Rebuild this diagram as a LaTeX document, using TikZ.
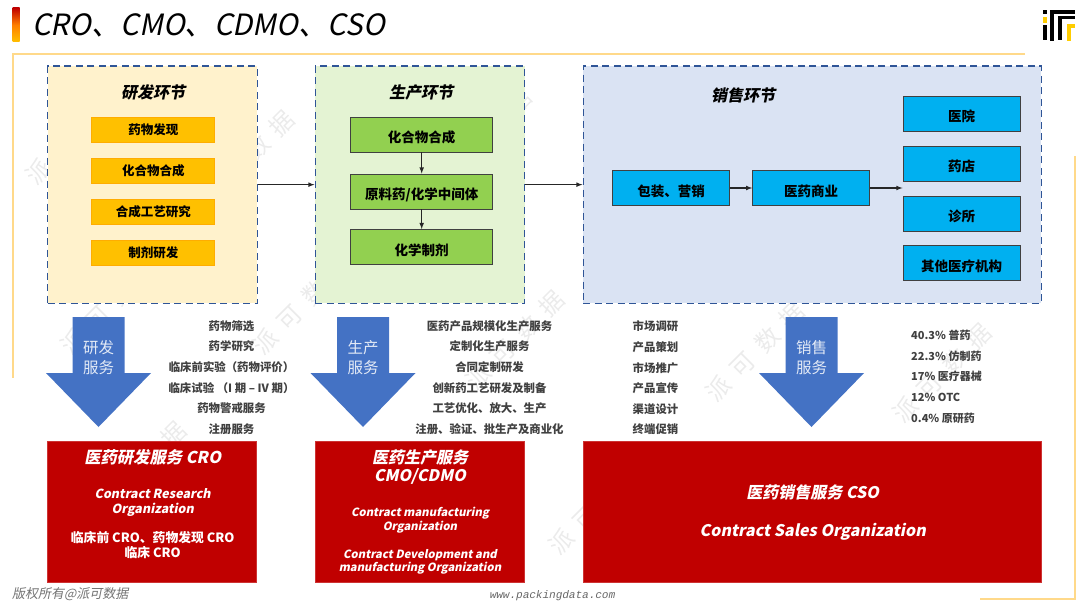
\documentclass[tikz,border=0pt]{standalone}
\usepackage{fontspec}
\setmainfont{Noto Sans CJK SC}
\newfontfamily\slantfont[FakeSlant=0.2]{Noto Sans CJK SC}
\newfontfamily\wmfont[LetterSpace=45]{Noto Sans CJK SC}
\newfontfamily\webfont[FakeSlant=0.2]{Liberation Mono}
\usepackage{xcolor}
\definecolor{framecol}{HTML}{FFD98A}
\definecolor{dashcol}{HTML}{2F5597}
\definecolor{goldcol}{HTML}{FFC000}
\definecolor{leafcol}{HTML}{92D050}
\definecolor{skycol}{HTML}{00B0F0}
\definecolor{darkred}{HTML}{C00000}
\definecolor{svccol}{HTML}{4472C4}
\tikzset{
  panel/.style={draw=dashcol,dash pattern=on 7pt off 4.5pt,line width=1.3pt,inner sep=0pt,anchor=north west},
  ybox/.style={draw=goldcol!70!orange,fill=goldcol,line width=0.8pt,minimum width=123pt,minimum height=25pt,inner sep=0pt,font=\fontsize{12.5}{14}\selectfont\bfseries},
  gbox/.style={draw=black!75,fill=leafcol,line width=0.9pt,minimum width=142pt,minimum height=35pt,inner sep=0pt,text height=16pt,text depth=0pt,font=\fontsize{13.5}{15}\selectfont\bfseries},
  bbox/.style={draw=black!75,fill=skycol,line width=0.9pt,minimum width=117pt,minimum height=35pt,inner sep=0pt,text height=16pt,text depth=0pt,font=\fontsize{13.5}{15}\selectfont\bfseries},
  redbox/.style={fill=darkred,draw=darkred!80!white,line width=0.4pt,inner sep=0pt,anchor=north west},
  ptitle/.style={font=\fontsize{16}{18}\selectfont\slantfont\bfseries},
  flow/.style={->,>=latex,black!85,line width=1.1pt},
  svctext/.style={white!85!svccol,align=center,font=\fontsize{15.5}{20}\selectfont},
  svcitem/.style={black!75,font=\fontsize{11.4}{13}\selectfont\bfseries},
  redtext/.style={white,align=center},
  wmark/.style={black!8,rotate=45,font=\fontsize{24}{28}\selectfont\wmfont}
}
\begin{document}
\begin{tikzpicture}[x=1pt,y=-1pt]
  \useasboundingbox (0,0) rectangle (1089,607);

  % watermark
  \foreach \wx/\wy in {75/135,245/160,482/138,110/305,302/305,515/340,755/352,942/373,137/471,598/505}
    \node[wmark] (wm\wx) at (\wx,\wy) {派可数据};

  % title
  \shade [top color=darkred,bottom color=goldcol,middle color=orange] (12.5,8) rectangle (19.5,42);
  \node (title) at (32,25) [anchor=west,inner sep=0pt,font=\fontsize{29.3}{32}\selectfont\slantfont] {CRO、CMO、CDMO、CSO};
  \draw [framecol,line width=1.2pt] (1025,54) -- (13,54) -- (13,378);
  \draw [framecol,line width=1.2pt] (1075,156) -- (1075,599) -- (980,599);

  % logo
  \fill (1043,10) rectangle (1047,14);
  \fill [goldcol!80!yellow] (1043,17) rectangle (1047,23);
  \fill (1043,25) rectangle (1047,40);
  \fill (1050,10) rectangle (1075,14);
  \fill (1050,10) rectangle (1054,41);
  \fill (1058,16) rectangle (1075,19.5);
  \fill (1058,16) rectangle (1062,40);
  \fill [goldcol!80!yellow] (1067,24) rectangle (1075,28);
  \fill [goldcol!80!yellow] (1067,24) rectangle (1071,41);

  % panels
  \node[panel,fill=goldcol!20!white,minimum width=209.5pt,minimum height=237pt] (rdpanel) at (47,65.5) {};
  \node[panel,fill=leafcol!25!white,minimum width=209.5pt,minimum height=237pt] (mfgpanel) at (314.5,65.5) {};
  \node[panel,fill=svccol!20!white,minimum width=458pt,minimum height=237pt] (salespanel) at (582.5,65.5) {};
  \draw[flow] (rdpanel) -- (mfgpanel);
  \draw[flow] (mfgpanel) -- (salespanel);

  \node[ptitle] (rdtitle) at (153,92) {研发环节};
  \node[ptitle] (mfgtitle) at (421,92) {生产环节};
  \node[ptitle] (salestitle) at (743,95) {销售环节};

  % research steps
  \node[ybox] (y1) at (153.3,129.5) {药物发现};
  \node[ybox] (y2) at (153.3,170.5) {化合物合成};
  \node[ybox] (y3) at (153.3,211.5) {合成工艺研究};
  \node[ybox] (y4) at (153.3,252.5) {制剂研发};

  % production steps
  \node[gbox] (g1) at (421.7,134.5) {化合物合成};
  \node[gbox] (g2) at (421.7,191.5) {原料药/化学中间体};
  \node[gbox] (g3) at (421.7,247) {化学制剂};
  \draw[flow] (g1) -- (g2);
  \draw[flow] (g2) -- (g3);

  % sales steps
  \node[bbox] (b1) at (671.2,188) {包装、营销};
  \node[bbox] (b2) at (811.2,188) {医药商业};
  \node[bbox] (h1) at (961.5,113.5) {医院};
  \node[bbox] (h2) at (961.5,163.5) {药店};
  \node[bbox] (h3) at (961.5,213.5) {诊所};
  \node[bbox] (h4) at (961.5,263) {其他医疗机构};
  \coordinate (hleft) at (902.5,188);
  \draw[flow] (b1) -- (b2);
  \draw[flow] (b2) -- (hleft);

  % service arrows
  \foreach \cx in {98.5,363,811.5}
    \fill [svccol] (\cx-26,317) -- (\cx+26,317) -- (\cx+26,373) -- (\cx+52.5,373)
      -- (\cx,427) -- (\cx-52.5,373) -- (\cx-26,373) -- cycle;
  \node[svctext] (rdsvc) at (98.5,358) {研发\\服务};
  \node[svctext] (mfgsvc) at (363,358) {生产\\服务};
  \node[svctext] (salessvc) at (811.5,358) {销售\\服务};

  % service lists
  \foreach \txt [count=\i] in {药物筛选,药学研究,临床前实验（药物评价）,临床试验 （I 期 – IV 期）,药物警戒服务,注册服务}
    \node[svcitem] (la\i) at (231.5,326+20.6*\i-20.6) {\txt};
  \foreach \txt [count=\i] in {医药产品规模化生产服务,定制化生产服务,合同定制研发,创新药工艺研发及制备,工艺优化、放大、生产,注册、验证、批生产及商业化}
    \node[svcitem] (lb\i) at (489.5,326+20.6*\i-20.6) {\txt};
  \foreach \txt [count=\i] in {市场调研,产品策划,市场推广,产品宣传,渠道设计,终端促销}
    \node[svcitem] (lc\i) at (655.5,326.6+20.6*\i-20.6) {\txt};
  \foreach \txt [count=\i] in {40.3\% 普药,22.3\% 仿制药,17\% 医疗器械,12\% OTC,0.4\% 原研药}
    \node[svcitem,font=\fontsize{11}{13}\selectfont\bfseries,anchor=west,inner sep=0pt] (ld\i) at (911,335.5+20.6*\i-20.6) {\txt};

  % service boxes
  \node[redbox,minimum width=209pt,minimum height=141pt] (crobox) at (47,441) {};
  \node[redbox,minimum width=209pt,minimum height=141pt] (cmobox) at (314.5,441) {};
  \node[redbox,minimum width=458pt,minimum height=141pt] (csobox) at (582.5,441) {};

  \node[redtext,font=\fontsize{16.3}{18}\selectfont\slantfont\bfseries] (cro1) at (152.7,457) {医药研发服务 CRO};
  \node[redtext,font=\fontsize{12.5}{15}\selectfont\slantfont\bfseries] (cro2) at (152.7,502.5) {Contract Research\\Organization};
  \node[redtext,font=\fontsize{12.8}{15}\selectfont\bfseries] (cro3) at (152.7,545) {临床前 CRO、药物发现 CRO\\临床 CRO};

  \node[redtext,font=\fontsize{16}{18.5}\selectfont\slantfont\bfseries] (cmo1) at (420,467) {医药生产服务\\CMO/CDMO};
  \node[redtext,font=\fontsize{11.3}{14}\selectfont\slantfont\bfseries] (cmo2) at (420,520) {Contract manufacturing\\Organization};
  \node[redtext,font=\fontsize{11.3}{13.5}\selectfont\slantfont\bfseries] (cmo3) at (420,562) {Contract Development and\\manufacturing Organization};

  \node[redtext,font=\fontsize{16}{18}\selectfont\slantfont\bfseries] (cso1) at (812.7,492.5) {医药销售服务 CSO};
  \node[redtext,font=\fontsize{16}{19}\selectfont\slantfont\bfseries] (cso2) at (812.7,532) {Contract Sales Organization};

  % footer
  \node[black!55,anchor=west,inner sep=0pt,font=\fontsize{13}{14}\selectfont\slantfont] (copyright) at (12,594.5) {版权所有@派可数据};
  \node[black!60,inner sep=0pt,font=\fontsize{11}{13}\selectfont\webfont] (website) at (552,596) {www.packingdata.com};
\end{tikzpicture}
\end{document}
